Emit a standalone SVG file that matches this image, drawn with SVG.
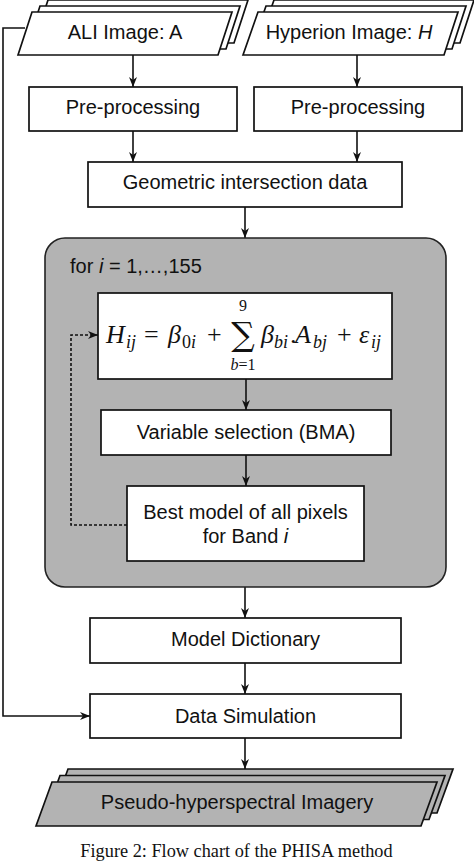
<svg xmlns="http://www.w3.org/2000/svg" width="474" height="862" viewBox="0 0 474 862">
<defs>
<style>
.box{fill:#fff;stroke:#111;stroke-width:1.7}
.img{fill:#fff;stroke:#111;stroke-width:1.7;stroke-linejoin:miter}
.gimg{fill:#b3b3b3;stroke:#111;stroke-width:1.7}
.lbl{font-family:"Liberation Sans",Arial,sans-serif;font-size:20px;fill:#111;text-anchor:middle}
.m{font-family:"Liberation Serif","Times New Roman",serif;fill:#111}
.it{font-style:italic}
.con{fill:none;stroke:#111;stroke-width:1.6}
.dash{fill:none;stroke:#111;stroke-width:1.6;stroke-dasharray:3,2}
</style>
<marker id="ah" markerUnits="userSpaceOnUse" markerWidth="10" markerHeight="8" refX="10" refY="4" orient="auto">
<path d="M0,0 L10,4 L0,8 L3,4 z" fill="#111"/>
</marker>
</defs>
<rect width="474" height="862" fill="#fff"/>

<g id="connectors">
<line class="con" x1="133" y1="55" x2="133" y2="87" marker-end="url(#ah)"/>
<line class="con" x1="357" y1="55" x2="357" y2="87" marker-end="url(#ah)"/>
<line class="con" x1="133" y1="131" x2="133" y2="162" marker-end="url(#ah)"/>
<line class="con" x1="357" y1="131" x2="357" y2="162" marker-end="url(#ah)"/>
<line class="con" x1="245" y1="207" x2="245" y2="238" marker-end="url(#ah)"/>
<line class="con" x1="245" y1="587" x2="245" y2="618" marker-end="url(#ah)"/>
<line class="con" x1="245" y1="663" x2="245" y2="694" marker-end="url(#ah)"/>
<line class="con" x1="245" y1="738" x2="245" y2="769" marker-end="url(#ah)"/>
<polyline class="con" points="25,28 3,28 3,716 90,716" marker-end="url(#ah)"/>
</g>

<g id="ali">
<polygon class="img" points="34,43 48,0 248,0 234,43"/>
<polygon class="img" points="26,49 40,6 240,6 226,49"/>
<polygon class="img" points="18,55 32,12 232,12 218,55"/>
<text class="lbl" x="125" y="39">ALI Image: A</text>
</g>

<g id="hyperion">
<polygon class="img" points="259,43 274,0 474,0 460,43"/>
<polygon class="img" points="251,49 266,6 466,6 452,49"/>
<polygon class="img" points="243,55 258,12 458,12 444,55"/>
<text class="lbl" x="349" y="39">Hyperion Image: <tspan font-style="italic">H</tspan></text>
</g>

<g id="pre-left">
<rect class="box" x="29" y="87" width="208" height="44"/>
<text class="lbl" x="133" y="114">Pre-processing</text>
</g>

<g id="pre-right">
<rect class="box" x="254" y="87" width="208" height="44"/>
<text class="lbl" x="358" y="114">Pre-processing</text>
</g>

<g id="geometric">
<rect class="box" x="88" y="162" width="314" height="45"/>
<text class="lbl" x="245" y="189">Geometric intersection data</text>
</g>

<g id="loop">
<rect x="45" y="238" width="401" height="349" rx="20" ry="20" fill="#b3b3b3" stroke="#222" stroke-width="1.6"/>
<text class="lbl" x="70" y="273" style="text-anchor:start">for <tspan font-style="italic">i</tspan> = 1,…,155</text>
</g>

<g id="formula">
<rect class="box" x="98" y="293" width="294" height="86"/>
<text class="m it" x="106" y="343" font-size="26">H</text>
<text class="m it" x="126" y="348" font-size="18">ij</text>
<text class="m" x="144" y="343" font-size="26">=</text>
<text class="m it" x="168" y="343" font-size="26">β</text>
<text class="m" x="182" y="348" font-size="18">0<tspan font-style="italic">i</tspan></text>
<text class="m" x="207" y="343" font-size="26">+</text>
<text class="m" x="243" y="311" font-size="16" text-anchor="middle">9</text>
<text x="243" y="346" font-size="33" text-anchor="middle" font-family="'DejaVu Serif',serif" fill="#111">∑</text>
<text class="m" x="243" y="369.5" font-size="16" text-anchor="middle"><tspan font-style="italic">b</tspan>=1</text>
<text class="m it" x="261" y="343" font-size="26">β</text>
<text class="m it" x="274" y="348" font-size="18">bi</text>
<text class="m" x="290" y="343" font-size="26">.</text>
<text class="m it" x="295" y="343" font-size="26">A</text>
<text class="m it" x="313" y="348" font-size="18">bj</text>
<text class="m" x="337" y="343" font-size="26">+</text>
<text class="m it" x="359" y="343" font-size="26">ε</text>
<text class="m it" x="371" y="348" font-size="18">ij</text>
</g>

<g id="variable">
<rect class="box" x="101" y="410" width="290" height="45"/>
<text class="lbl" x="246" y="439">Variable selection (BMA)</text>
</g>

<g id="best">
<rect class="box" x="127" y="486" width="237" height="75"/>
<text class="lbl" x="245.5" y="519">Best model of all pixels</text>
<text class="lbl" x="245.5" y="543">for Band <tspan font-style="italic">i</tspan></text>
</g>

<g id="inner-connectors">
<line class="con" x1="246" y1="379" x2="246" y2="410" marker-end="url(#ah)"/>
<line class="con" x1="246" y1="455" x2="246" y2="486" marker-end="url(#ah)"/>
<polyline class="dash" points="127,525 71,525 71,335 98,335" marker-end="url(#ah)"/>
</g>

<g id="dictionary">
<rect class="box" x="90" y="618" width="311" height="45"/>
<text class="lbl" x="245.5" y="646">Model Dictionary</text>
</g>

<g id="simulation">
<rect class="box" x="90" y="694" width="311" height="44"/>
<text class="lbl" x="245.5" y="723">Data Simulation</text>
</g>

<g id="pseudo">
<polygon class="gimg" points="52,813 68,769 453,769 437,813"/>
<polygon class="gimg" points="44,819.5 60,775.5 445,775.5 429,819.5"/>
<polygon class="gimg" points="36,826 52,782 437,782 421,826"/>
<text class="lbl" x="237" y="809">Pseudo-hyperspectral Imagery</text>
</g>

<text x="236.5" y="857" font-family="'Liberation Serif','Times New Roman',serif" font-size="18.3" fill="#111" text-anchor="middle">Figure 2: Flow chart of the PHISA method</text>
</svg>
